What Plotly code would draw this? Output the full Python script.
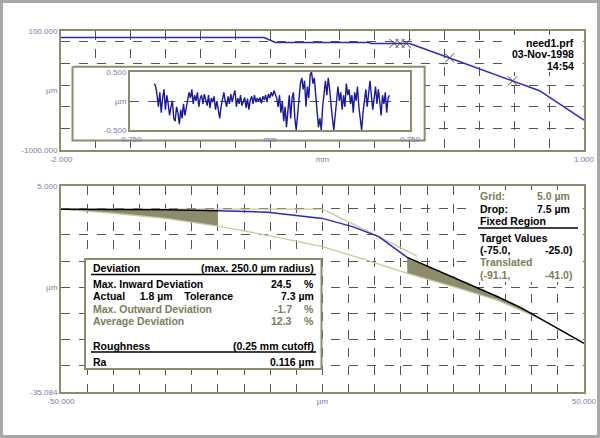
import numpy as np
import plotly.graph_objects as go

W, H = 600, 438
def px(x): return x / W
def py(y): return 1 - y / H

# ---------------- data ----------------
top_x = [-2.0, -0.836, -0.77, -0.234, -0.22, 0.0, 0.229, 0.59, 0.745, 1.0]
top_y = [39, 39, -6, -6, -15, -15, -149, -361, -452, -725]
mark_x = [-0.09, -0.055, -0.02, 0.229, 0.59]
mark_y = [-15, -15, -15, -149, -361]

rough_y = [0.3,0.25,0.1,-0.1,0.15,-0.2,0.05,0.2,-0.15,0.1,-0.05,-0.25,-0.1,0.0,-0.3,-0.35,-0.1,-0.2,-0.4,-0.15,-0.3,-0.05,-0.25,-0.1,0.05,
           0.15,0.05,0.2,-0.05,0.1,0.0,0.15,-0.1,0.05,0.1,-0.05,0.12,0.0,-0.08,0.1,-0.12,0.05,-0.02,0.08,-0.15,0.0,-0.2,-0.3,-0.1,0.05,0.15,0.0,-0.1,0.08,-0.05,0.12,-0.02,0.1,0.18,-0.1,0.05,-0.05,0.1,-0.08,0.0,0.06,-0.12,0.04,-0.15,0.02,0.08,-0.05,0.1,-0.02,0.05,
           0.0,0.06,-0.04,0.08,0.02,0.1,-0.02,0.12,0.05,0.15,0.08,0.18,0.1,0.05,-0.1,0.1,-0.2,0.0,-0.35,-0.1,-0.45,-0.2,0.1,-0.3,0.05,
           0.15,-0.3,-0.5,-0.2,0.1,0.3,0.4,0.2,0.35,-0.1,0.25,0.05,0.45,0.5,0.3,0.4,0.1,-0.2,-0.45,-0.3,-0.5,-0.1,0.2,0.35,0.1,0.4,0.2,-0.1,-0.3,-0.5,-0.2,0.05,0.25,0.0,0.15,-0.15,0.1,-0.1,0.3,0.1,0.2,-0.05,0.1,-0.2,0.15,0.0,0.25,-0.1,-0.3,-0.5,-0.2,0.05,0.2,-0.1,0.15,0.35,0.1,-0.15,0.05,0.25,-0.05,0.2,0.0,-0.25,0.1,-0.05,0.15,-0.2,0.05,0.1]
rough_x = list(np.linspace(-0.62, 0.64, len(rough_y)))

prof_x = [-50, -40, -30, -20, -10.5, 0, 5.7, 10.75, 16.2, 21, 26, 33.4, 38, 42.2, 46, 50]
prof_y = [0.5, 0.48, 0.4, 0.2, -0.1, -1.3, -2.9, -4.86, -8.9, -11.0, -13.3, -16.5, -18.7, -21.1, -23.3, -25.6]
lower_x = [-50, -40, -30, -20, -10, 0, 8, 16.2, 25, 33.4, 42.2]
lower_y = [0.5, -0.3, -1.3, -2.8, -4.7, -6.8, -9.3, -12.0, -14.6, -17.2, -21.1]
upper_x = [-50, 0, 10.75, 18]
upper_y = [0.5, 0.5, -4.86, -8.6]

OLIVE = '#8c8c6c'; TAN = '#c8c8a4'; BLUE = '#2a2ab8'; TICK = '#7b7bab'
FONT = 'Liberation Sans, Arial, sans-serif'

fig = go.Figure()

fig.add_trace(go.Scatter(x=top_x, y=top_y, mode='lines', line=dict(color=BLUE, width=1.5), xaxis='x', yaxis='y'))
fig.add_trace(go.Scatter(x=mark_x, y=mark_y, mode='markers', marker=dict(symbol='x-thin', size=9, line=dict(color='#444', width=1)), xaxis='x', yaxis='y'))
fig.add_trace(go.Scatter(x=[-1.934, 0.086, 0.086, -1.934, -1.934], y=[-231, -231, -913, -913, -231], mode='lines',
                         fill='toself', fillcolor='white', line=dict(color=OLIVE, width=2), xaxis='x', yaxis='y'))
fig.add_trace(go.Scatter(x=rough_x, y=rough_y, mode='lines', line=dict(color='#1a1a9a', width=1.4), xaxis='x3', yaxis='y3'))

def seg(xs, ys, lo, hi):
    return [(a, b) for a, b in zip(xs, ys) if lo <= a <= hi]
for lo, hi in [(-50, -20), (16.2, 42.2)]:
    a = seg(prof_x, prof_y, lo, hi); b = seg(lower_x, lower_y, lo, hi)[::-1]
    pts = a + b
    fig.add_trace(go.Scatter(x=[p[0] for p in pts], y=[p[1] for p in pts], fill='toself', fillcolor=OLIVE,
                             mode='lines', line=dict(width=0), xaxis='x2', yaxis='y2'))
fig.add_trace(go.Scatter(x=lower_x, y=lower_y, mode='lines', line=dict(color=TAN, width=1.3), xaxis='x2', yaxis='y2'))
fig.add_trace(go.Scatter(x=upper_x, y=upper_y, mode='lines', line=dict(color=TAN, width=1.3), xaxis='x2', yaxis='y2'))
for lo, hi, c in [(-50, -20, 'black'), (-20, 16.2, BLUE), (16.2, 50, 'black')]:
    s = seg(prof_x, prof_y, lo, hi)
    fig.add_trace(go.Scatter(x=[p[0] for p in s], y=[p[1] for p in s], mode='lines', line=dict(color=c, width=1.5), xaxis='x2', yaxis='y2'))

def ax(domain, rng, tv, tt, minor_vals, anchor):
    return dict(domain=domain, range=rng, anchor=anchor, tickvals=tv, ticktext=tt, showgrid=False, zeroline=False,
                showline=True, mirror=True, linecolor=OLIVE, linewidth=2, ticks='', ticklen=0, automargin=False,
                tickfont=dict(size=8, color=TICK, family=FONT),
                minor=dict(tickvals=minor_vals, showgrid=True, gridcolor='#555', griddash='dash', gridwidth=1, ticks=''))

fig.update_layout(
    width=W, height=H, margin=dict(l=0, r=0, t=0, b=0, autoexpand=False), showlegend=False,
    paper_bgcolor='white', plot_bgcolor='white',
    xaxis=ax([px(61), px(584)], [-2, 1], [-2, -0.5, 1], ['-2.000', 'mm', '1.000'], [round(-1.8 + 0.2 * i, 2) for i in range(14)], 'y'),
    yaxis=ax([py(150), py(31)], [-1000, 100], [100, -450, -1000], ['100.000', 'µm', '-1000.000'], [0, -200, -400, -600, -800], 'x'),
    xaxis2=ax([px(61), px(584)], [-50, 50], [-50, 0, 50], ['-50.000', 'µm', '50.000'], [-45 + 5 * i for i in range(19)], 'y2'),
    yaxis2=ax([py(392), py(186)], [-35.084, 5], [5, -14.7, -35.084], ['5.000', 'µm', '-35.084'], [0.6, -4.5, -9.6, -14.7, -19.8, -24.9, -30.0], 'x2'),
    xaxis3=ax([px(130), px(410)], [-0.75, 0.75], [-0.75, 0, 0.75], ['-0.750', 'mm', '0.750'], [], 'y3'),
    yaxis3=ax([py(130), py(72)], [-0.5, 0.5], [0.5, 0, -0.5], ['0.500', 'µm', '-0.500'], [0], 'x3'),
)

shapes = [
    dict(type='rect', xref='paper', yref='paper', x0=px(1.5), x1=px(598.5), y0=py(1.5), y1=py(436.5), line=dict(color='#a8a8a8', width=3)),
    dict(type='rect', xref='paper', yref='paper', x0=px(85), x1=px(321.5), y0=py(259), y1=py(369), fillcolor='white', line=dict(color=OLIVE, width=2), layer='above'),
    dict(type='rect', xref='paper', yref='paper', x0=px(474), x1=px(581), y0=py(190), y1=py(282), fillcolor='white', line=dict(width=0), layer='above'),
    dict(type='rect', xref='paper', yref='paper', x0=px(505), x1=px(581), y0=py(35), y1=py(72), fillcolor='white', line=dict(width=0), layer='above'),
]
for x0, x1, y in [(91, 316, 274.5), (91, 316, 352), (478, 578, 228)]:
    shapes.append(dict(type='line', xref='paper', yref='paper', x0=px(x0), x1=px(x1), y0=py(y), y1=py(y), line=dict(color='black', width=1.5), layer='above'))
fig.update_layout(shapes=shapes)

def txt(x, y, s, anchor='left', color='black', size=10.5):
    fig.add_annotation(x=px(x), y=py(y), xref='paper', yref='paper', text='<b>' + s + '</b>', showarrow=False,
                       xanchor=anchor, yanchor='middle', font=dict(size=size, color=color, family=FONT))

OT = '#7c7c5c'
txt(576, 43, 'need1.prf', 'right'); txt(576, 54.5, '03-Nov-1998', 'right'); txt(576, 66, '14:54', 'right')
txt(91, 268, 'Deviation'); txt(316, 268, '(max. 250.0 µm radius)', 'right')
txt(91, 284, 'Max. Inward Deviation'); txt(294, 284, '24.5', 'right'); txt(316, 284, '%', 'right')
txt(91, 296, 'Actual     1.8 µm    Tolerance'); txt(316, 296, '7.3 µm', 'right')
txt(91, 308.5, 'Max. Outward Deviation', color=OT); txt(294, 308.5, '-1.7', 'right', OT); txt(316, 308.5, '%', 'right', OT)
txt(91, 321, 'Average Deviation', color=OT); txt(294, 321, '12.3', 'right', OT); txt(316, 321, '%', 'right', OT)
txt(91, 346, 'Roughness'); txt(316, 346, '(0.25 mm cutoff)', 'right')
txt(91, 362, 'Ra'); txt(316, 362, '0.116 µm', 'right')
txt(478, 196, 'Grid:', color=OT); txt(572, 196, '5.0 µm', 'right', OT)
txt(478, 209, 'Drop:'); txt(572, 209, '7.5 µm', 'right')
txt(478, 221, 'Fixed Region')
txt(478, 237.5, 'Target Values')
txt(478, 250, '(-75.0,'); txt(574, 250, '-25.0)', 'right')
txt(478, 262, 'Translated', color=OT)
txt(478, 274.5, '(-91.1,', color=OT); txt(574, 274.5, '-41.0)', 'right', OT)

fig.write_html('out.html', config={'displayModeBar': False},
               post_script="document.body.style.margin='0';document.body.style.padding='0';document.body.style.overflow='hidden';")
